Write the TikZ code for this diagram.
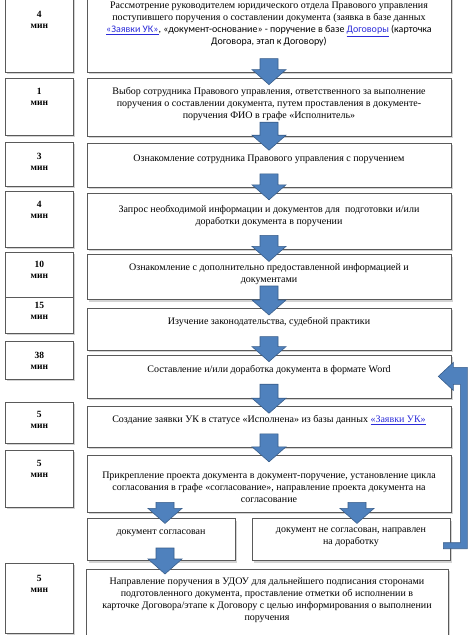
\documentclass[tikz,border=0pt]{standalone}
\usepackage{fontspec}
\setmainfont{Liberation Serif}
\newfontfamily\sansPart{Carlito}
\usepackage{xcolor}
\definecolor{boxEdge}{HTML}{5A5A5A}
\definecolor{arrowFill}{HTML}{4F81BD}
\definecolor{arrowEdge}{HTML}{385D8A}
\definecolor{linkBlue}{HTML}{2B2BD9}
\usepackage{tikz}
\usetikzlibrary{positioning,calc,shadows}
\newcommand{\dbLink}[1]{\textcolor{linkBlue}{\underline{#1}}}
\tikzset{
  stepBox/.style={
    rectangle,
    draw=boxEdge,
    fill=white,
    line width=0.6pt,
    inner sep=0pt,
    minimum width=364pt,
    drop shadow={shadow xshift=1.8pt, shadow yshift=-1.8pt, opacity=0.35}
 },
  timeBox/.style={
    stepBox,
    minimum width=68pt,
    anchor=north west
 },
  stepText/.style={
    align=center,
    inner sep=0pt,
    font=\fontsize{10}{12}\selectfont
 },
  timeText/.style={
    align=center,
    inner sep=0pt,
    font=\bfseries\fontsize{9.5}{11}\selectfont
 },
  blockArrow/.style={
    fill=arrowFill,
    draw=arrowEdge,
    line width=0.6pt,
    to path={let \p1=(\tikztostart), \p2=(\tikztotarget) in
      (\x1-9pt,\y1) -- (\x1+9pt,\y1) -- (\x1+9pt,\y2+15pt) -- (\x1+17pt,\y2+15pt)
      -- (\x1,\y2) -- (\x1-17pt,\y2+15pt) -- (\x1-9pt,\y2+15pt) -- cycle}
 }
}

\begin{document}
\begin{tikzpicture}[x=1pt, y=-1pt]
\useasboundingbox (0,0) rectangle (474,635);

            % steps on the right
            \node[stepBox, anchor=north, minimum height=80pt] (s1) at (269,-8) {};
            \node[stepBox, minimum height=58pt, below=5pt of s1] (s2) {};
            \node[stepBox, minimum height=44pt, below=7pt of s2] (s3) {};
            \node[stepBox, minimum height=56pt, below=5pt of s3] (s4) {};
            \node[stepBox, minimum height=45pt, below=5pt of s4] (s5) {};
            \node[stepBox, minimum height=42pt, below=8pt of s5] (s6) {};
            \node[stepBox, minimum height=43pt, below=4pt of s6] (s7) {};
            \node[stepBox, minimum height=41pt, below=8pt of s7] (s8) {};
            \node[stepBox, minimum height=57pt, below=7pt of s8] (s9) {};

            % two outcomes of the approval
            \node[stepBox, minimum width=148pt, minimum height=42pt, below right=6pt and 0pt of s9.south west] (dL) {};
            \node[stepBox, minimum width=198pt, minimum height=42pt, below left=6pt and 1pt of s9.south east] (dR) {};

            % last step
            \node[stepBox, minimum width=362pt, minimum height=70pt, below right=8pt and -1pt of dL.south west] (s11) {};

            % minutes on the left
            \node[timeBox, minimum height=75pt] (m1) at (5,-3) {};
            \node[timeBox, minimum height=57pt] (m2) at (5,78) {};
            \node[timeBox, minimum height=44pt] (m3) at (5,142) {};
            \node[timeBox, minimum height=56pt] (m4) at (5,191) {};
            \node[timeBox, minimum height=45pt] (m5) at (5,252) {};
            \node[timeBox, minimum height=36pt] (m6) at (5,297) {};
            \node[timeBox, minimum height=38pt] (m7) at (5,341) {};
            \node[timeBox, minimum height=41pt] (m8) at (5,402) {};
            \node[timeBox, minimum height=57pt] (m9) at (5,450) {};
            \node[timeBox, minimum height=70pt] (m11) at (5,563) {};

            \node[timeText, below=14pt of m1.north] (n1) {4\\мин};
            \node[timeText, below=10pt of m2.north] (n2) {1\\мин};
            \node[timeText, below=11pt of m3.north] (n3) {3\\мин};
            \node[timeText, below=10pt of m4.north] (n4) {4\\мин};
            \node[timeText, below=9pt of m5.north] (n5) {10\\мин};
            \node[timeText, below=5pt of m6.north] (n6) {15\\мин};
            \node[timeText, below=11pt of m7.north] (n7) {38\\мин};
            \node[timeText, below=9pt of m8.north] (n8) {5\\мин};
            \node[timeText, below=10pt of m9.north] (n9) {5\\мин};
            \node[timeText, below=12pt of m11.north] (n11) {5\\мин};

            % texts of the steps
            \node[stepText, below=10pt of s1.north] (t1) {Рассмотрение руководителем юридического отдела Правового управления\\
              поступившего поручения о составлении документа (заявка в базе данных\\
              {\sansPart\dbLink{«Заявки УК»}, «документ-основание» - поручение в базе \dbLink{Договоры} (карточка}\\
              {\sansPart Договора, этап к Договору)}};
            \node[stepText, below=10pt of s2.north] (t2) {Выбор сотрудника Правового управления, ответственного за выполнение\\
              поручения о составлении документа, путем проставления в документе-\\
              поручения ФИО в графе «Исполнитель»};
            \node[stepText, below=11pt of s3.north] (t3) {Ознакомление сотрудника Правового управления с поручением};
            \node[stepText, below=12pt of s4.north] (t4) {Запрос необходимой информации и документов для~ подготовки и/или\\
              доработки документа в поручении};
            \node[stepText, below=9pt of s5.north] (t5) {Ознакомление с дополнительно предоставленной информацией и\\
              документами};
            \node[stepText, below=9pt of s6.north] (t6) {Изучение законодательства, судебной практики};
            \node[stepText, below=11pt of s7.north] (t7) {Составление и/или доработка документа в формате Word};
            \node[stepText, below=9pt of s8.north] (t8) {Создание заявки УК в статусе «Исполнена» из базы данных \dbLink{«Заявки УК»}};
            \node[stepText, below=17pt of s9.north] (t9) {Прикрепление проекта документа в документ-поручение, установление цикла\\
              согласования в графе «согласование», направление проекта документа на\\
              согласование};
            \node[stepText, below=11pt of dL.north] (tL) {документ согласован};
            \node[stepText, below=9pt of dR.north] (tR) {документ не согласован, направлен\\
              на доработку};
            \node[stepText, below=8pt of s11.north] (t11) {Направление поручения в УДОУ для дальнейшего подписания сторонами\\
              подготовленного документа, проставление отметки об исполнении в\\
              карточке Договора/этапе к Договору с целью информирования о выполнении\\
              поручения};

            % arrows down the chain
            \draw[blockArrow] ([yshift=14pt]s1.south) to ([yshift=-7pt]s2.north);
            \draw[blockArrow] ([yshift=14pt]s2.south) to ([yshift=-7pt]s3.north);
            \draw[blockArrow] ([yshift=14pt]s3.south) to ([yshift=-7pt]s4.north);
            \draw[blockArrow] ([yshift=14pt]s4.south) to ([yshift=-7pt]s5.north);
            \draw[blockArrow] ([yshift=14pt]s5.south) to ([yshift=-7pt]s6.north);
            \draw[blockArrow] ([yshift=14pt]s6.south) to ([yshift=-7pt]s7.north);
            \draw[blockArrow] ([yshift=14pt]s7.south) to ([yshift=-7pt]s8.north);
            \draw[blockArrow] ([yshift=14pt]s8.south) to ([yshift=-7pt]s9.north);

            % split after approval
            \draw[blockArrow] ($(s9.south -| dL.north)+(4pt,10pt)$) to ($(dL.north)+(4pt,-5pt)$);
            \draw[blockArrow] ($(s9.south -| dR.north)+(6pt,10pt)$) to ($(dR.north)+(6pt,-5pt)$);
            \draw[blockArrow] ($(dL.south)+(4pt,13pt)$) to ($(s11.north -| dL.south)+(4pt,-5pt)$);

            % back to rework
            \draw[fill=arrowFill, draw=arrowEdge, line width=0.6pt] let \p1=(dR.east), \p2=(s7.east) in
              (\x2-13pt,\y2) -- (\x2+2pt,\y2+14pt) -- (\x2+2pt,\y2+9pt) -- (\x2+16pt,\y2+9pt)
              -- (\x2+16pt,\y1-9pt) -- (\x1-7pt,\y1-9pt) -- (\x1-7pt,\y1-3pt) -- (\x2+9pt,\y1-3pt)
              -- (\x2+9pt,\y2-8pt) -- (\x2+2pt,\y2-8pt) -- (\x2+2pt,\y2-14pt) -- cycle;

        \end{tikzpicture}
\end{document}
